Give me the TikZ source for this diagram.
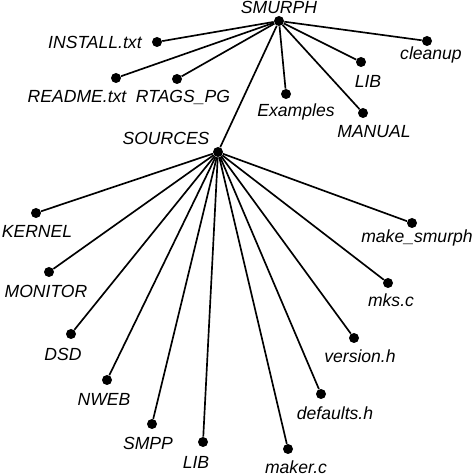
\documentclass[tikz,border=0pt]{standalone}
\usepackage{fontspec}
\setmainfont{Liberation Sans}
\usepackage{tikz}
\usetikzlibrary{positioning}
\tikzset{
  dot/.style={circle,fill=black,inner sep=0pt,minimum size=2mm},
  lbl/.style={font=\itshape\fontsize{10}{12}\selectfont,inner sep=0pt},
  edge/.style={line width=0.95pt}
}

\begin{document}
\begin{tikzpicture}
\useasboundingbox (0,0) rectangle (9.48,9.50);
\node[dot] (smurph) at (5.58,9.08) {};
\node[dot] (install) at (3.14,8.66) {};
\node[dot] (readme) at (2.32,7.94) {};
\node[dot] (rtags) at (3.54,7.92) {};
\node[dot] (examples) at (5.72,7.62) {};
\node[dot] (manual) at (7.26,7.24) {};
\node[dot] (lib) at (7.22,8.26) {};
\node[dot] (cleanup) at (8.54,8.68) {};
\node[dot] (sources) at (4.36,6.46) {};
\node[dot] (kernel) at (0.72,5.24) {};
\node[dot] (monitor) at (0.98,4.06) {};
\node[dot] (dsd) at (1.42,2.82) {};
\node[dot] (nweb) at (2.14,1.90) {};
\node[dot] (smpp) at (3.04,1.02) {};
\node[dot] (srclib) at (4.06,0.66) {};
\node[dot] (maker) at (5.76,0.52) {};
\node[dot] (defaults) at (6.42,1.62) {};
\node[dot] (version) at (7.08,2.74) {};
\node[dot] (mks) at (7.76,3.84) {};
\node[dot] (makesm) at (8.24,5.04) {};

\node[lbl] (smurphL) at (5.58,9.36) {SMURPH};
\node[lbl,anchor=east] (installL) at (2.84,8.66) {INSTALL.txt};
\node[lbl] (readmeL) at (1.54,7.56) {README.txt};
\node[lbl] (rtagsL) at (3.66,7.56) {RTAGS\_PG};
\node[lbl] (examplesL) at (5.92,7.26) {Examples};
\node[lbl] (manualL) at (7.48,6.86) {MANUAL};
\node[lbl] (libL) at (7.36,7.88) {LIB};
\node[lbl] (cleanupL) at (8.62,8.40) {cleanup};
\node[lbl] (sourcesL) at (3.32,6.74) {SOURCES};
\node[lbl] (kernelL) at (0.74,4.88) {KERNEL};
\node[lbl] (monitorL) at (0.92,3.68) {MONITOR};
\node[lbl] (dsdL) at (1.26,2.42) {DSD};
\node[lbl] (nwebL) at (2.08,1.52) {NWEB};
\node[lbl] (smppL) at (2.96,0.64) {SMPP};
\node[lbl] (srclibL) at (3.92,0.26) {LIB};
\node[lbl] (makerL) at (5.92,0.16) {maker.c};
\node[lbl] (defaultsL) at (6.70,1.24) {defaults.h};
\node[lbl] (versionL) at (7.20,2.38) {version.h};
\node[lbl] (mksL) at (7.82,3.50) {mks.c};
\node[lbl] (makesmL) at (8.34,4.74) {make\_smurph};

\foreach \c in {install,readme,rtags,sources,examples,manual,lib,cleanup}
  \draw[edge] (smurph) -- (\c);
\foreach \c in {kernel,monitor,dsd,nweb,smpp,srclib,maker,defaults,version,mks,makesm}
  \draw[edge] (sources) -- (\c);
\end{tikzpicture}
\end{document}
